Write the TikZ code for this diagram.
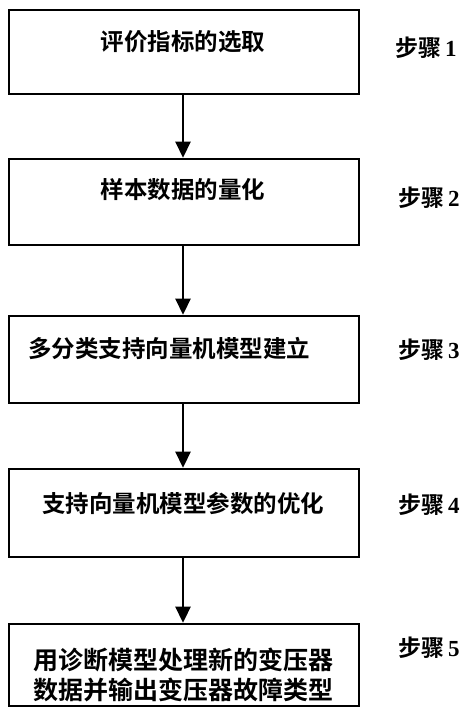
\documentclass[tikz,border=0pt]{standalone}
\usepackage{fontspec}
\newfontfamily\cjk{Noto Sans CJK SC Bold}
\newfontfamily\digit{Liberation Serif}
\usetikzlibrary{arrows.meta}
\begin{document}
\begin{tikzpicture}[x=1pt,y=-1pt,
  stepbox/.style={draw=black,line width=2.6pt,minimum width=350pt,inner sep=0pt},
  txt/.style={font=\cjk\fontsize{23.5}{30}\selectfont,inner sep=0pt,align=center},
  lbl/.style={font=\cjk\fontsize{23}{24}\selectfont,inner sep=0pt,anchor=west},
  arr/.style={line width=2.6pt,-{Triangle[width=15pt,length=16pt]}}]
\useasboundingbox (0,0) rectangle (474,719);
\node[stepbox,minimum height=84pt] (b1) at (184,52) {};
\node[stepbox,minimum height=86pt] (b2) at (184,202) {};
\node[stepbox,minimum height=87pt] (b3) at (184,359.5) {};
\node[stepbox,minimum height=88pt] (b4) at (184,513) {};
\node[stepbox,minimum height=82pt] (b5) at (184,665) {};
\node[txt] (t1) at (183,42) {评价指标的选取};
\node[txt] (t2) at (183,190) {样本数据的量化};
\node[txt,anchor=west] (t3) at (28,348) {多分类支持向量机模型建立};
\node[txt] (t4) at (183,503) {支持向量机模型参数的优化};
\node[txt,font=\cjk\fontsize{25}{30}\selectfont] (t5) at (183,675) {用诊断模型处理新的变压器\\数据并输出变压器故障类型};
\node[lbl] (l1) at (395,48) {步骤\,{\digit\bfseries 1}};
\node[lbl] (l2) at (398,198) {步骤\,{\digit\bfseries 2}};
\node[lbl] (l3) at (398,350) {步骤\,{\digit\bfseries 3}};
\node[lbl] (l4) at (398,505) {步骤\,{\digit\bfseries 4}};
\node[lbl] (l5) at (398,648) {步骤\,{\digit\bfseries 5}};
\draw[arr] (b1.south -| 183,0) -- (b2.north -| 183,0);
\draw[arr] (b2.south -| 183,0) -- (b3.north -| 183,0);
\draw[arr] (b3.south -| 183,0) -- (b4.north -| 183,0);
\draw[arr] (b4.south -| 183,0) -- (b5.north -| 183,0);
\end{tikzpicture}
\end{document}
